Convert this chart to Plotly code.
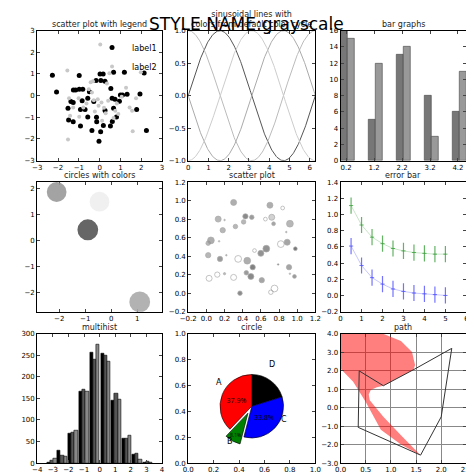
import plotly.graph_objects as go
from plotly.subplots import make_subplots
import numpy as np

# scatter with legend
s1_x = [-2.27,-2.07,-0.98,-1.26,-1.15,-0.98,-0.81,-1.38,-1.27,-0.84,-0.57,-0.49,-0.17,0.02,0.17,0.06,0.26,0.67,1.19,2.14,0.54,0.60,0.74,0.95,1.00,1.10,1.32,1.94,-1.52,-0.92,-0.70,-0.15,-0.57,0.26,0.67,0.81,-1.49,-1.27,-0.92,-0.37,0.05,-0.14,0.18,0.52,0.61,1.78,2.25,-0.03,-0.28]
s1_y = [0.94,0.17,0.93,0.26,0.26,0.30,0.30,-0.27,-0.32,-0.24,-0.12,0.18,0.70,1.00,1.00,0.70,0.67,1.08,1.08,1.05,0.33,-0.12,-0.17,-0.26,0.03,0.03,0.06,0.08,-0.58,-0.64,-0.64,-1.00,-0.99,-0.68,-0.58,-0.99,-1.12,-1.20,-1.40,-1.61,-1.67,-1.20,-1.38,-1.40,-1.19,-0.64,-1.61,-2.10,-0.27]
s2_x = [-1.55,0.03,-1.52,-1.47,-1.42,-1.27,-1.01,-0.98,-0.78,-0.63,-0.52,-0.43,-0.32,-0.37,-0.28,-0.23,-0.09,-0.05,0.09,0.21,0.29,0.41,0.47,0.35,0.75,0.83,0.90,1.06,1.27,1.44,1.59,1.75,1.98,1.56,0.12,0.67]
s2_y = [1.16,2.36,-2.02,-0.12,-0.93,-0.55,-0.12,-0.97,-0.55,-0.36,0.29,0.62,0.67,0.14,-0.21,-0.73,-0.17,-0.47,-0.32,-0.56,-0.81,-0.24,1.03,0.56,-0.70,-0.36,-0.85,-0.05,0.36,-0.55,-1.64,-0.12,1.08,-0.70,-1.16,-1.03]

# sinusoids
phases = [0, 0.5*np.pi, np.pi, 1.5*np.pi]
sin_colors = ["#555555", "#bbbbbb", "#aaaaaa", "#cccccc"]

# bars
bar_x = [0, 1, 2, 3, 4]
bar_a = [16, 5, 13, 8, 6]
bar_b = [15, 12, 14, 3, 11]
bar_ticks = [0.2, 1.2, 2.2, 3.2, 4.2]

# circles
circ_x = [-2.1, -0.45, -0.9, 1.1]
circ_y = [1.87, 1.5, 0.42, -2.35]
circ_r = [0.38, 0.38, 0.4, 0.4]
circ_c = ["#999999", "#eeeeee", "#555555", "#aaaaaa"]

# scatter plot
sc_x = [0.30,0.70,0.84,0.13,0.20,0.43,0.50,0.41,0.65,0.72,0.92,0.74,0.18,0.32,0.88,0.05,0.02,0.14,0.89,0.82,0.98,0.66,0.60,0.53,0.02,0.22,0.15,0.35,0.45,0.79,0.51,0.91,0.03,0.12,0.20,0.30,0.44,0.49,0.61,0.97,0.92,0.75,0.71,0.37]
sc_y = [0.98,0.95,0.92,0.80,0.79,0.83,0.82,0.77,0.80,0.82,0.75,0.75,0.68,0.72,0.66,0.57,0.54,0.56,0.55,0.53,0.48,0.48,0.43,0.46,0.41,0.41,0.37,0.37,0.35,0.31,0.28,0.28,0.16,0.20,0.21,0.17,0.22,0.18,0.14,0.18,0.21,0.05,0.01,0.00]
sc_s = [8,8,5,8,2,7,6,6,5,8,9,5,7,6,2,9,6,2,8,9,5,9,8,5,7,2,7,9,9,2,7,7,8,7,3,8,6,8,7,5,2,9,6,6]
sc_g = [0.55,0.55,1,0.6,0.6,0.35,0.45,0.6,1,0.75,0.6,0.5,0.6,0.6,0.6,0.55,0.6,0.7,0.5,1,0.25,0.4,0.4,1,0.6,0.6,0.45,1,0.55,0.2,0.3,0.5,1,1,0.6,1,0.45,0.35,0.5,0.45,0.7,1,1,0.35]

# error bar
eb_x = [0.5,1.0,1.5,2.0,2.5,3.0,3.5,4.0,4.5,5.0]
eb_y1 = [0.61,0.37,0.22,0.14,0.08,0.05,0.03,0.02,0.01,0.0]
eb_y2 = [1.11,0.87,0.72,0.64,0.58,0.55,0.53,0.52,0.51,0.51]
eb_err = 0.1

# multihist
h_centers = [-3.05,-2.4,-1.7,-1.0,-0.3,0.4,1.06,1.74,2.4,3.1]
h_a = [2,28,69,166,257,253,144,57,20,2]
h_b = [5,18,70,170,240,249,160,57,23,3]
h_c = [10,16,75,165,275,235,147,63,8,2]
h_colors = ["#000000", "#555555", "#888888"]

# pie (listed clockwise from 12 o'clock)
pie_labels = ["D", "C", "B", "A"]
pie_vals = [20.2, 33.8, 8.1, 37.9]
pie_colors = ["black", "blue", "green", "red"]
pie_pull = [0, 0, 0.25, 0]

# path
path_x = [0.37,0.85,1.48,2.21,2.0,1.59,0.35,0.37]
path_y = [1.98,1.18,2.09,3.2,-0.5,-2.57,-1.07,1.98]
red_x = [0,0.83,1.2,1.42,1.48,1.45,0.85,0.72,0.6,0.56,0.58,0.85,1.2,1.59,1.2,0.8,0.5,0.25,0,0]
red_y = [4,4,3.6,3.0,2.3,2.05,1.18,1.1,0.95,0.7,0.4,-0.5,-1.5,-2.57,-2.0,-1.2,0.3,1.4,2.1,4]

fig = make_subplots(rows=3, cols=3)
xd = [[0.044,0.316],[0.373,0.650],[0.705,0.979]]
yd = [[0.681,0.960],[0.357,0.635],[0.032,0.310]]

fig.add_trace(go.Scatter(x=s1_x, y=s1_y, mode="markers", name="label1",
    marker=dict(color="black", size=5)), 1, 1)
fig.add_trace(go.Scatter(x=s2_x, y=s2_y, mode="markers", name="label2",
    marker=dict(color="#c8c8c8", size=4)), 1, 1)

xs = np.linspace(0, 2*np.pi, 200)
for p, c in zip(phases, sin_colors):
    fig.add_trace(go.Scatter(x=xs, y=np.sin(xs+p), mode="lines", line=dict(color=c, width=1), showlegend=False), 1, 2)

fig.add_trace(go.Bar(x=[v+0.125 for v in bar_x], y=bar_a, width=0.25, marker=dict(color="#777777", line=dict(color="#444", width=0.6)), showlegend=False), 1, 3)
fig.add_trace(go.Bar(x=[v+0.375 for v in bar_x], y=bar_b, width=0.25, marker=dict(color="#999999", line=dict(color="#444", width=0.6)), showlegend=False), 1, 3)

shapes = []
for cx, cy, r, c in zip(circ_x, circ_y, circ_r, circ_c):
    shapes.append(dict(type="circle", xref="x4", yref="y4", x0=cx-r, x1=cx+r, y0=cy-r, y1=cy+r,
                       fillcolor=c, line=dict(width=0), opacity=0.9))
fig.add_trace(go.Scatter(x=[None], y=[None], showlegend=False), 2, 1)

fc = []
for g in sc_g:
    if g >= 1:
        fc.append("rgba(255,255,255,0)")
    else:
        v = int(g*255); fc.append(f"rgb({v},{v},{v})")
fig.add_trace(go.Scatter(x=sc_x, y=sc_y, mode="markers", showlegend=False,
    marker=dict(size=[s*0.75 for s in sc_s], color=fc, line=dict(color="#888", width=0.7))), 2, 2)

fig.add_trace(go.Scatter(x=eb_x, y=eb_y1, mode="lines", showlegend=False,
    line=dict(color="rgba(80,80,255,0.4)", width=0.8),
    error_y=dict(array=[eb_err]*10, color="rgba(80,80,255,0.8)", width=0, thickness=1.2),
    error_x=dict(array=[eb_err]*10, color="rgba(80,80,255,0.8)", width=0, thickness=1)), 2, 3)
fig.add_trace(go.Scatter(x=eb_x, y=eb_y2, mode="lines", showlegend=False,
    line=dict(color="rgba(60,160,60,0.35)", width=0.8),
    error_y=dict(array=[eb_err]*10, color="rgba(60,160,60,0.8)", width=0, thickness=1.2),
    error_x=dict(array=[eb_err]*10, color="rgba(60,160,60,0.8)", width=0, thickness=1)), 2, 3)

bw = 0.2
for k, (vals, c) in enumerate(zip([h_a, h_b, h_c], h_colors)):
    fig.add_trace(go.Bar(x=[h+(k-1)*bw for h in h_centers], y=vals, width=bw,
        marker=dict(color=c, line=dict(color="black", width=0.6)), showlegend=False), 3, 1)

fig.add_trace(go.Scatter(x=[None], y=[None], showlegend=False), 3, 2)
fig.add_trace(go.Pie(labels=pie_labels, values=pie_vals, sort=False, direction="clockwise",
    rotation=0, pull=pie_pull, marker=dict(colors=pie_colors, line=dict(color="black", width=0.6)),
    texttemplate="%{percent:.1%}", textposition="inside", textfont=dict(size=7, color="black"),
    insidetextorientation="horizontal", showlegend=False,
    domain=dict(x=[0.425, 0.598], y=[0.068, 0.240])))

fig.add_trace(go.Scatter(x=red_x, y=red_y, mode="lines", fill="toself", fillcolor="rgba(255,0,0,0.5)",
    line=dict(width=0), showlegend=False), 3, 3)
fig.add_trace(go.Scatter(x=path_x, y=path_y, mode="lines", line=dict(color="#333", width=1), showlegend=False), 3, 3)

ax = dict(showline=True, mirror="allticks", linecolor="black", linewidth=1, ticks="inside", ticklen=3,
          showgrid=False, zeroline=False, tickfont=dict(size=7, family="DejaVu Sans", color="black"))
ranges = {
    1: ([-3, 3], [-3, 3], 1, 1),
    2: ([0, 2*np.pi], [-1, 1], 1, 0.5),
    3: ([0, 4.5], [0, 16], None, 2),
    4: ([-2.85, 1.96], [-2.72, 2.25], 1, 1),
    5: ([-0.2, 1.2], [-0.2, 1.2], 0.2, 0.2),
    6: ([0, 6], [-0.2, 1.4], 1, 0.2),
    7: ([-4, 4], [0, 300], 1, 50),
    8: ([0, 1], [0, 1], 0.2, 0.2),
    9: ([0, 2.5], [-3, 4], 0.5, 1),
}
for i in range(1, 10):
    r, c = (i-1)//3, (i-1) % 3
    xr, yr, dx, dy = ranges[i]
    xa = dict(ax, domain=xd[c], range=xr)
    ya = dict(ax, domain=yd[r], range=yr, dtick=dy)
    if dx is not None:
        xa["dtick"] = dx
    if i == 3:
        xa.update(tickmode="array", tickvals=bar_ticks, ticktext=[str(t) for t in bar_ticks])
    if i in (2, 5, 6, 8, 9):
        ya["tickformat"] = ".1f"
    if i in (5, 8, 9):
        xa["tickformat"] = ".1f"
    if i == 9:
        xa.update(showgrid=True, gridcolor="#888", gridwidth=1)
        ya.update(showgrid=True, gridcolor="#888", gridwidth=1)
    if i == 4:
        xa.update(tickmode="array", tickvals=[-2, -1, 0, 1])
        ya.update(tickmode="array", tickvals=[-2, -1, 0, 1, 2])
    fig.layout["xaxis" + ("" if i == 1 else str(i))].update(xa)
    fig.layout["yaxis" + ("" if i == 1 else str(i))].update(ya)

titles = ["scatter plot with legend", "sinusoidal lines with<br>colors from default color cycle", "bar graphs",
          "circles with colors", "scatter plot", "error bar", "multihist", "circle", "path"]
ann = []
for i, t in enumerate(titles):
    r, c = i//3, i % 3
    ann.append(dict(text=t, x=(xd[c][0]+xd[c][1])/2, y=yd[r][1], xref="paper", yref="paper",
                    xanchor="center", yanchor="bottom", showarrow=False,
                    font=dict(size=8, family="DejaVu Sans", color="#222")))
pie_pos = [(0.66, 0.76), (0.75, 0.34), (0.33, 0.17), (0.24, 0.62)]
for lab, (px_, py_) in zip(pie_labels, pie_pos):
    ann.append(dict(text=lab, x=px_, y=py_, xref="x8", yref="y8", showarrow=False,
                    font=dict(size=8, family="DejaVu Sans", color="black")))
ann.append(dict(text="STYLE NAME:grayscale", x=0.5, y=1.0, xref="paper", yref="paper", xanchor="center",
                yanchor="top", showarrow=False, font=dict(size=17, family="DejaVu Sans", color="black")))

fig.update_layout(width=474, height=474, margin=dict(l=0, r=0, t=0, b=0), plot_bgcolor="white",
    paper_bgcolor="white", shapes=shapes, annotations=ann, barmode="overlay", bargap=0,
    legend=dict(x=0.316, y=0.955, xanchor="right", yanchor="top", bgcolor="rgba(0,0,0,0)",
                font=dict(size=8, family="DejaVu Sans", color="black"), tracegroupgap=0))
fig.write_html("out.html")
